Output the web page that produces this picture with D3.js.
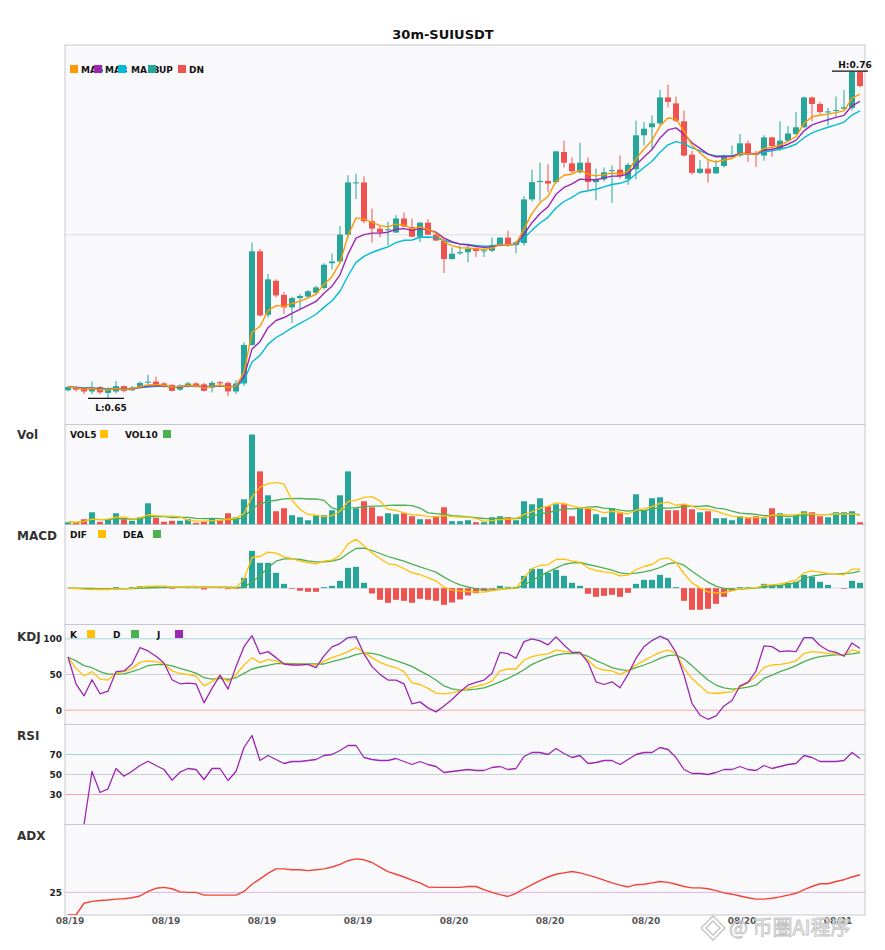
<!DOCTYPE html>
<html>
<head>
<meta charset="utf-8">
<title>30m-SUIUSDT</title>
<script src="https://cdn.jsdelivr.net/npm/d3@7"></script>
<style>
  body { margin: 0; background: #fff; }
  svg { display: block; font-family: "DejaVu Sans", sans-serif; }
</style>
</head>
<body>
<svg id="chart" width="885" height="950"></svg>
<script>
// 30m SUIUSDT, 100 candles
var open = [
  0.6529,0.6540,0.6534,0.6525,0.6540,0.6520,0.6525,0.6543,0.6529,0.6538,
  0.6556,0.6558,0.6552,0.6547,0.6531,0.6540,0.6552,0.6549,0.6538,0.6556,
  0.6554,0.6525,0.6552,0.6681,0.6995,0.6782,0.6896,0.6849,0.6807,0.6838,
  0.6843,0.6856,0.6872,0.6955,0.6961,0.7051,0.7224,0.7226,0.7096,0.7071,
  0.7067,0.7058,0.7105,0.7076,0.7044,0.7091,0.7051,0.7031,0.6969,0.6988,
  0.6992,0.7005,0.6996,0.6997,0.7014,0.7041,0.7016,0.7023,0.7169,0.7227,
  0.7231,0.7227,0.7328,0.7290,0.7260,0.7292,0.7227,0.7236,0.7264,0.7269,
  0.7238,0.7270,0.7384,0.7411,0.7424,0.7511,0.7491,0.7431,0.7319,0.7258,
  0.7272,0.7256,0.7281,0.7314,0.7316,0.7357,0.7321,0.7316,0.7377,0.7339,
  0.7366,0.7388,0.7411,0.7511,0.7489,0.7462,0.7467,0.7473,0.7476,0.7596
];
var high = [
  0.6543,0.6543,0.6536,0.6558,0.6543,0.6538,0.6560,0.6545,0.6543,0.6558,
  0.6581,0.6574,0.6556,0.6549,0.6549,0.6558,0.6556,0.6554,0.6560,0.6560,
  0.6558,0.6563,0.6690,0.7024,0.7002,0.6919,0.6901,0.6858,0.6843,0.6852,
  0.6865,0.6879,0.6955,0.6988,0.7080,0.7250,0.7255,0.7246,0.7138,0.7080,
  0.7094,0.7116,0.7125,0.7105,0.7094,0.7103,0.7059,0.7039,0.7008,0.7014,
  0.7020,0.7007,0.7007,0.7041,0.7041,0.7064,0.7030,0.7180,0.7269,0.7292,
  0.7287,0.7332,0.7366,0.7310,0.7359,0.7310,0.7272,0.7276,0.7283,0.7316,
  0.7292,0.7433,0.7428,0.7451,0.7536,0.7554,0.7514,0.7467,0.7332,0.7301,
  0.7299,0.7301,0.7319,0.7350,0.7388,0.7366,0.7332,0.7384,0.7379,0.7431,
  0.7415,0.7462,0.7514,0.7514,0.7496,0.7476,0.7514,0.7536,0.7599,0.7599
];
var low = [
  0.6525,0.6525,0.6516,0.6516,0.6516,0.6502,0.6518,0.6522,0.6527,0.6534,
  0.6547,0.6543,0.6538,0.6525,0.6527,0.6538,0.6538,0.6525,0.6522,0.6543,
  0.6509,0.6516,0.6543,0.6678,0.6776,0.6773,0.6840,0.6784,0.6755,0.6802,
  0.6838,0.6852,0.6867,0.6935,0.6955,0.7040,0.7170,0.7089,0.7024,0.7042,
  0.7015,0.7056,0.7076,0.7042,0.7026,0.7049,0.7030,0.6922,0.6967,0.6983,
  0.6958,0.6976,0.6976,0.6992,0.7012,0.7010,0.6989,0.7014,0.7162,0.7162,
  0.7193,0.7222,0.7276,0.7258,0.7256,0.7200,0.7166,0.7229,0.7157,0.7238,
  0.7218,0.7236,0.7350,0.7339,0.7417,0.7478,0.7428,0.7312,0.7252,0.7254,
  0.7225,0.7256,0.7276,0.7312,0.7312,0.7294,0.7278,0.7299,0.7312,0.7332,
  0.7361,0.7386,0.7408,0.7431,0.7455,0.7417,0.7446,0.7469,0.7467,0.7545
];
var close = [
  0.6540,0.6531,0.6525,0.6538,0.6522,0.6531,0.6543,0.6527,0.6538,0.6554,
  0.6558,0.6549,0.6543,0.6527,0.6545,0.6552,0.6543,0.6527,0.6554,0.6552,
  0.6525,0.6552,0.6681,0.6995,0.6780,0.6901,0.6847,0.6807,0.6838,0.6845,
  0.6861,0.6874,0.6950,0.6961,0.7051,0.7226,0.7226,0.7096,0.7071,0.7058,
  0.7069,0.7105,0.7078,0.7044,0.7091,0.7051,0.7031,0.6969,0.6987,0.6992,
  0.7003,0.6996,0.6998,0.7016,0.7041,0.7016,0.7025,0.7169,0.7227,0.7231,
  0.7222,0.7330,0.7292,0.7263,0.7292,0.7227,0.7236,0.7260,0.7267,0.7247,
  0.7285,0.7384,0.7406,0.7424,0.7511,0.7496,0.7433,0.7316,0.7258,0.7272,
  0.7256,0.7278,0.7316,0.7316,0.7357,0.7321,0.7319,0.7377,0.7348,0.7366,
  0.7390,0.7411,0.7511,0.7489,0.7462,0.7464,0.7469,0.7478,0.7596,0.7549
];
var ma5 = [
  0.6540,0.6537,0.6533,0.6535,0.6531,0.6531,0.6535,0.6532,0.6534,0.6541,
  0.6547,0.6548,0.6546,0.6540,0.6542,0.6545,0.6544,0.6538,0.6543,0.6546,
  0.6539,0.6543,0.6589,0.6724,0.6743,0.6796,0.6813,0.6811,0.6820,0.6828,
  0.6839,0.6851,0.6884,0.6910,0.6957,0.7047,0.7107,0.7103,0.7092,0.7081,
  0.7077,0.7086,0.7083,0.7070,0.7077,0.7068,0.7056,0.7027,0.7014,0.7007,
  0.7006,0.7003,0.7001,0.7006,0.7018,0.7017,0.7020,0.7070,0.7122,0.7158,
  0.7179,0.7229,0.7250,0.7254,0.7267,0.7254,0.7248,0.7252,0.7257,0.7254,
  0.7264,0.7304,0.7338,0.7367,0.7415,0.7442,0.7439,0.7398,0.7351,0.7325,
  0.7302,0.7294,0.7301,0.7306,0.7323,0.7322,0.7321,0.7340,0.7343,0.7351,
  0.7364,0.7380,0.7424,0.7446,0.7451,0.7455,0.7460,0.7466,0.7509,0.7522
];
var ma8 = [
  0.6540,0.6538,0.6535,0.6536,0.6533,0.6532,0.6535,0.6533,0.6534,0.6539,
  0.6543,0.6544,0.6544,0.6540,0.6541,0.6544,0.6544,0.6540,0.6543,0.6545,
  0.6541,0.6543,0.6574,0.6667,0.6692,0.6739,0.6763,0.6773,0.6787,0.6800,
  0.6814,0.6827,0.6854,0.6878,0.6916,0.6985,0.7039,0.7051,0.7056,0.7056,
  0.7059,0.7069,0.7071,0.7065,0.7071,0.7067,0.7059,0.7039,0.7027,0.7019,
  0.7016,0.7011,0.7008,0.7010,0.7017,0.7017,0.7019,0.7052,0.7091,0.7122,
  0.7144,0.7186,0.7209,0.7221,0.7237,0.7235,0.7235,0.7241,0.7247,0.7247,
  0.7255,0.7284,0.7311,0.7336,0.7375,0.7402,0.7409,0.7388,0.7359,0.7340,
  0.7321,0.7312,0.7313,0.7313,0.7323,0.7323,0.7322,0.7334,0.7337,0.7344,
  0.7354,0.7367,0.7399,0.7419,0.7428,0.7436,0.7444,0.7451,0.7483,0.7498
];
var ma13 = [
  0.6540,0.6539,0.6537,0.6537,0.6535,0.6534,0.6536,0.6534,0.6535,0.6538,
  0.6540,0.6542,0.6542,0.6540,0.6541,0.6542,0.6542,0.6540,0.6542,0.6543,
  0.6541,0.6542,0.6562,0.6624,0.6646,0.6683,0.6706,0.6721,0.6738,0.6753,
  0.6768,0.6784,0.6807,0.6829,0.6861,0.6913,0.6958,0.6978,0.6991,0.7001,
  0.7010,0.7024,0.7032,0.7033,0.7042,0.7043,0.7041,0.7031,0.7025,0.7020,
  0.7018,0.7015,0.7012,0.7013,0.7017,0.7017,0.7018,0.7039,0.7066,0.7090,
  0.7109,0.7140,0.7162,0.7176,0.7193,0.7198,0.7203,0.7211,0.7219,0.7223,
  0.7232,0.7254,0.7276,0.7297,0.7327,0.7352,0.7363,0.7356,0.7342,0.7332,
  0.7321,0.7315,0.7315,0.7315,0.7321,0.7321,0.7321,0.7329,0.7332,0.7337,
  0.7344,0.7354,0.7376,0.7392,0.7402,0.7411,0.7419,0.7428,0.7452,0.7466
];
// volume, x100k
var volume = [
  2.3,1.7,5.3,12.3,2.7,5.3,11.3,5.3,3.7,7.3,
  21.3,6.7,2.7,3.7,3.7,5.3,1.7,2.7,6.3,4.3,
  11.3,7.3,25.3,90.3,53.3,29.3,13.3,16.3,9.3,7.3,
  4.3,9.3,9.3,14.3,29.3,53.3,16.3,23.3,17.3,8.3,
  11.3,10.3,11.3,8.3,5.3,5.3,8.3,17.3,3.3,3.3,
  4.3,2.3,2.3,7.3,8.3,7.3,4.3,23.3,20.3,26.3,
  18.3,20.3,20.3,8.3,16.3,16.3,10.3,7.3,16.3,11.3,
  7.3,30.3,14.3,26.3,27.3,14.3,14.3,20.3,15.3,12.3,
  13.3,6.3,6.3,4.3,8.3,7.3,8.3,6.3,16.3,11.3,
  6.3,9.3,13.3,12.3,8.3,7.3,12.3,12.3,13.3,2.3
];
var vol5 = [
  2.3,2.0,3.1,5.4,4.86,5.46,7.38,7.38,5.66,6.58,
  9.78,8.86,8.34,8.34,7.62,4.42,3.42,3.42,3.94,4.06,
  5.26,6.38,10.9,27.7,37.5,41.1,42.3,40.5,24.3,15.1,
  10.1,9.3,7.9,8.9,13.3,23.1,24.5,27.3,27.9,23.7,
  15.3,14.1,11.7,9.9,9.3,8.1,7.7,8.9,7.9,7.5,
  7.3,6.1,3.1,3.9,4.9,5.5,5.9,10.1,12.7,16.3,
  18.5,21.7,21.1,18.7,16.7,16.3,14.3,11.7,13.3,12.3,
  10.5,14.5,15.9,17.9,21.1,22.5,19.3,20.5,18.3,15.3,
  15.1,13.5,10.7,8.5,7.7,6.5,6.9,6.9,9.3,9.9,
  9.7,9.9,11.3,10.5,9.9,10.1,10.7,10.5,10.7,9.5
];
var vol10 = [
  2.3,2.0,3.1,5.4,4.86,4.93,5.84,5.78,5.54,5.72,
  7.62,8.12,7.86,7.0,7.1,7.1,6.14,5.88,6.14,5.84,
  4.84,4.9,7.16,15.82,20.78,23.18,24.34,25.7,26.0,26.3,
  25.6,25.8,24.2,16.6,14.2,16.6,16.9,17.6,18.4,18.5,
  19.2,19.3,19.5,18.9,16.5,11.7,10.9,10.3,8.9,8.4,
  7.7,6.9,6.0,5.9,6.2,6.4,6.0,6.6,8.3,10.6,
  12.0,13.8,15.6,15.7,16.5,17.4,18.0,16.4,16.0,14.5,
  13.4,14.4,13.8,15.6,16.7,16.5,16.9,18.2,18.1,18.2,
  18.8,16.4,15.6,13.4,11.5,10.8,10.2,8.8,8.9,8.8,
  8.1,8.4,9.1,9.9,9.9,9.9,10.3,10.9,10.6,9.8
];
// MACD, x1e-4
var dif = [
  0,-1,-3,-4,-4,-4,-2,-2,0,3,
  5,6,6,4,4,5,5,3,3,4,
  1,1,27,92,95,108,105,94,89,81,
  77,73,81,84,98,133,147,127,106,89,
  73,70,59,46,41,31,22,3,-6,-8,
  -10,-11,-12,-8,-4,0,0,31,59,68,
  70,86,87,82,77,61,53,49,46,37,
  39,56,65,71,87,91,77,44,16,1,
  -11,-14,-13,-8,-2,0,1,9,10,13,
  18,24,46,52,48,44,43,40,57,57
];
var dea = [
  0,0,-1,-1,-2,-2,-2,-2,-1,0,
  1,2,3,3,3,4,4,4,3,3,
  3,2,2,19,37,61,81,88,88,86,
  82,79,79,81,87,104,119,120,113,104,
  95,88,81,72,64,56,48,33,20,10,
  4,-2,-5,-5,-3,-1,0,9,23,36,
  49,60,71,76,77,71,66,60,54,46,
  43,45,49,54,62,73,77,69,51,34,
  18,6,-1,-4,-3,-1,0,4,6,8,
  11,16,29,36,40,43,43,44,46,51
];
var macdHist = [
  0,0,-2,0,-3,-3,3,0,3,6,
  6,5,3,-2,0,1,1,-4,0,3,
  -3,-2,31,112,76,76,46,13,-2,-8,
  -11,-11,3,7,22,61,64,16,-16,-35,
  -44,-35,-38,-44,-32,-35,-38,-50,-43,-34,
  -22,-15,-8,-2,7,4,4,37,58,58,
  46,55,37,16,7,-17,-26,-23,-20,-26,
  -14,13,25,25,40,31,3,-38,-65,-65,
  -62,-47,-26,-8,3,3,0,13,10,10,
  16,19,40,34,19,10,0,-2,22,16
];
var kdjK = [
  74.5,58.6,48.3,54,43.6,42.2,52,54,58.6,67,
  69,68,65,55,51.6,50,47.8,34,40,47.8,
  40,50,63.3,73.6,66.6,70.8,69,65,64.2,64.2,
  64.2,63,68.5,73.6,77.4,82,87.7,81,73.6,67,
  62.4,59.5,54,38.4,36,30.5,24,23,24.4,27,
  30.5,33.3,36,40.8,55,57.7,57.7,70.3,75,77.4,
  78.8,84,82.5,81,80,70.3,59.5,56.3,55,50.2,
  55,63.3,69.4,75.5,81,84,79.7,58.6,44.5,34.2,
  24.4,23.4,24.8,25.8,32.3,38.9,47.3,60,63.3,64.2,
  66,69,79.7,82,81,79.7,78.8,77.4,84.4,81.6
];
var kdjD = [
  74.5,69,62.4,59.5,54,50.6,50.6,51,54,57.7,
  62.4,63.8,64.2,62,58.6,55.3,52,45.5,43.6,44.5,
  43,45.5,51.6,57.7,60.5,62.8,65.2,65.6,65.2,64.7,
  64.7,64.7,64.7,68,70.8,74,77.8,80.2,79.7,77,
  73,69.4,65.6,61.4,55,49.2,42.2,34,30,28,
  28.6,29.5,31.4,35.2,39.8,44.5,50.2,56.7,64.2,69,
  73.6,77,79.2,79.2,79.2,75.5,69.4,64.7,59.5,56.7,
  55.3,59.5,63.3,67.5,72.7,76.4,77.4,71.7,62.4,52,
  42.2,35.2,31.4,29.5,30.5,32.3,35.2,44.5,49.2,54,
  58,62.4,68,72.2,75,76.4,77.4,77.8,78.8,80.6
];
var kdjJ = [
  74.5,37,20,42.7,23,26.7,54,55,64.7,87.7,
  83,75.5,66,42.7,37,38,37,10.3,30.5,49.2,
  29.5,61,89,104.5,78.8,82,73.6,64.7,63.3,63.3,
  64.2,59.5,76,88.6,93.3,101.7,103,78.8,61,50.2,
  42.2,42.2,37,9,11.7,3.3,-2.3,6,15,25.8,
  35,39,42.2,51.6,81,79.2,72.7,96,99.9,97,
  91.4,102.7,91.4,81,81,67,39.8,36,39.8,31.4,
  50.2,72.7,89,97.5,103.6,98.5,81,49.2,9.4,-7,
  -12.7,-8,6,13.6,34.2,38.9,54.9,90,89,82,
  83,82,101.7,101.7,90.5,83.5,81,75.5,94.2,86.3
];
var rsi = [
  null,null,0,53,32,35.7,56,48.3,53.3,59,
  63.3,59,55,44.3,52.3,56,55,45,56,56,
  44,53,77,89,64,69,65,61,63,63,
  64,65,69,70,74,79,79,67,65,64,
  64,66,63,60,63,60,58,52,53,54,
  55,54,54,57,58,55,56,68,72,72,
  70,76,71,67,69,61,62,64,64,60,
  65,70,72,72,77,75,67,55,51,51,
  50,52,55,55,58,55,54,59,56,58,
  60,61,69,67,63,63,63,64,72,66
];
var adx = [
  0,0,13,15,16,16.5,17.5,18,19,21,
  26,29.5,30.5,29,25.5,25,25,22,22,22,
  22,22,26,34,40,46,51,51,50,50,
  49,50,51,53,56,60,62,61,58,53,
  48,45,42,38.5,35.5,31,30.5,30.5,30.5,30.5,
  31.5,31.5,28,25,22.5,20.5,24,29,33.5,38,
  42,45,46.5,48,46.5,44,41.5,38.5,35.5,33,
  31,33.5,34,35.5,37,36,34,31.5,30,30,
  29,27,24.5,23,21,19,17.5,17.5,18.5,20,
  22,24,28,31.5,34.5,34.5,37,39,42,44.5
];
var tickIndex = [0, 12, 24, 36, 48, 60, 72, 84, 96];
var tickLabels = ["08/19","08/19","08/19","08/19","08/20","08/20","08/20","08/20","08/21"];

var UP = "#26a69a", DN = "#ef5350",
    ORANGE = "#ff9800", PURPLE = "#9c27b0", CYAN = "#00bcd4",
    YELLOW = "#ffc107", GREEN = "#4caf50";

var svg = d3.select("#chart"),
    n = close.length,
    left = 65, right = 865;

var panels = {
  main: [45, 424.5], vol: [424.5, 524.5], macd: [524.5, 624.5],
  kdj: [624.5, 724.5], rsi: [724.5, 824.5], adx: [824.5, 915]
};

var x = d3.scaleBand().domain(d3.range(n)).range([left - 1, right - 1]);
function cx(i) { return x(i) + x.bandwidth() / 2; }
var bodyW = 6;

var defs = svg.append("defs");
Object.keys(panels).forEach(function(k) {
  var p = panels[k];
  svg.append("rect")
      .attr("x", left).attr("y", p[0])
      .attr("width", right - left).attr("height", p[1] - p[0])
      .attr("fill", "#f9f9fb").attr("stroke", "#c8c8d0");
  defs.append("clipPath").attr("id", "clip-" + k)
    .append("rect")
      .attr("x", left).attr("y", p[0])
      .attr("width", right - left).attr("height", p[1] - p[0]);
});

function layer(k) { return svg.append("g").attr("clip-path", "url(#clip-" + k + ")"); }

function drawLine(g, values, yScale, color, width) {
  g.append("path")
      .datum(values)
      .attr("fill", "none")
      .attr("stroke", color)
      .attr("stroke-width", width || 1.3)
      .attr("stroke-linejoin", "round")
      .attr("d", d3.line()
        .defined(function(d) { return d != null; })
        .x(function(d, i) { return cx(i); })
        .y(function(d) { return yScale(d); }));
}

function refLine(g, yScale, v, color) {
  g.append("line")
      .attr("x1", left).attr("x2", right)
      .attr("y1", yScale(v)).attr("y2", yScale(v))
      .attr("stroke", color).attr("stroke-width", 1);
}

function legend(items, yc) {
  items.forEach(function(it) {
    svg.append("text")
        .attr("x", it.tx).attr("y", yc + 3.5)
        .attr("font-size", 9).attr("font-weight", "bold").attr("fill", "#111")
        .text(it.label);
    svg.append("rect")
        .attr("x", it.sx).attr("y", yc - 4)
        .attr("width", 8).attr("height", 8)
        .attr("fill", it.color);
  });
}

function tickLabel(yScale, v) {
  svg.append("text")
      .attr("x", 62).attr("y", yScale(v) + 3.5)
      .attr("text-anchor", "end")
      .attr("font-size", 9).attr("font-weight", "bold").attr("fill", "#222")
      .text(v);
}

// title and panel names
svg.append("text")
    .attr("x", 443).attr("y", 39)
    .attr("text-anchor", "middle")
    .attr("font-size", 13).attr("font-weight", "bold").attr("fill", "#111")
    .text("30m-SUIUSDT");

[["Vol", 439], ["MACD", 540], ["KDJ", 641], ["RSI", 740], ["ADX", 840]].forEach(function(d) {
  svg.append("text")
      .attr("x", 17).attr("y", d[1])
      .attr("font-size", 12).attr("font-weight", "bold").attr("fill", "#333")
      .text(d[0]);
});

// ---- main: candles + MA ----
var lo = d3.min(low), hi = d3.max(high), pad = (hi - lo) * 0.08;
var y = d3.scaleLinear().domain([lo - pad, hi + pad]).range([panels.main[1], panels.main[0]]);
var gMain = layer("main");
refLine(gMain, y, (lo + hi) / 2, "#dcdce3");

var candles = gMain.selectAll("g.candle")
  .data(d3.range(n))
  .enter().append("g")
    .attr("class", "candle");
candles.append("line")
    .attr("x1", cx).attr("x2", cx)
    .attr("y1", function(i) { return y(high[i]); })
    .attr("y2", function(i) { return y(low[i]); })
    .attr("stroke", function(i) { return close[i] >= open[i] ? UP : DN; })
    .attr("stroke-width", 1);
candles.append("rect")
    .attr("x", function(i) { return cx(i) - bodyW / 2; })
    .attr("y", function(i) { return y(Math.max(open[i], close[i])); })
    .attr("width", bodyW)
    .attr("height", function(i) { return Math.max(1, Math.abs(y(open[i]) - y(close[i]))); })
    .attr("fill", function(i) { return close[i] >= open[i] ? UP : DN; });

drawLine(gMain, ma13, y, CYAN, 1.4);
drawLine(gMain, ma8, y, PURPLE, 1.4);
drawLine(gMain, ma5, y, ORANGE, 1.4);

legend([
  { sx: 70, tx: 81, label: "MA5", color: ORANGE },
  { sx: 94, tx: 105, label: "MA8", color: PURPLE },
  { sx: 118, tx: 131, label: "MA13", color: CYAN },
  { sx: 148, tx: 159, label: "UP", color: UP },
  { sx: 178, tx: 189, label: "DN", color: DN }
], 69);

// high / low markers
var hiIdx = high.indexOf(hi), loIdx = low.indexOf(lo);
svg.append("line")
    .attr("x1", cx(hiIdx) - 20).attr("x2", cx(hiIdx) + 16)
    .attr("y1", y(hi)).attr("y2", y(hi))
    .attr("stroke", "#111").attr("stroke-width", 1.2);
svg.append("text")
    .attr("x", cx(hiIdx) + 3).attr("y", y(hi) - 3.5)
    .attr("text-anchor", "middle")
    .attr("font-size", 9).attr("font-weight", "bold").attr("fill", "#111")
    .text("H:" + hi.toFixed(2));
svg.append("line")
    .attr("x1", cx(loIdx) - 20).attr("x2", cx(loIdx) + 16)
    .attr("y1", y(lo)).attr("y2", y(lo))
    .attr("stroke", "#111").attr("stroke-width", 1.2);
svg.append("text")
    .attr("x", cx(loIdx) + 3).attr("y", y(lo) + 12.5)
    .attr("text-anchor", "middle")
    .attr("font-size", 9).attr("font-weight", "bold").attr("fill", "#111")
    .text("L:" + lo.toFixed(2));

// ---- volume ----
var yVol = d3.scaleLinear().domain([0, d3.max(volume) / 0.9]).range([panels.vol[1], panels.vol[0]]);
var gVol = layer("vol");
gVol.selectAll("rect.vbar")
  .data(volume)
  .enter().append("rect")
    .attr("class", "vbar")
    .attr("x", function(d, i) { return cx(i) - bodyW / 2; })
    .attr("y", function(d) { return yVol(d); })
    .attr("width", bodyW)
    .attr("height", function(d) { return yVol(0) - yVol(d); })
    .attr("fill", function(d, i) { return close[i] >= open[i] ? UP : DN; });
drawLine(gVol, vol10, yVol, GREEN, 1.3);
drawLine(gVol, vol5, yVol, YELLOW, 1.3);
legend([
  { sx: 100, tx: 70, label: "VOL5", color: YELLOW },
  { sx: 163, tx: 125, label: "VOL10", color: GREEN }
], 434);

// ---- MACD ----
var yMacd = d3.scaleLinear().domain([-109, 191]).range([panels.macd[1], panels.macd[0]]);
var gMacd = layer("macd");
refLine(gMacd, yMacd, 0, "#dddde2");
gMacd.selectAll("rect.mbar")
  .data(macdHist)
  .enter().append("rect")
    .attr("class", "mbar")
    .attr("x", function(d, i) { return cx(i) - bodyW / 2; })
    .attr("y", function(d) { return yMacd(Math.max(0, d)); })
    .attr("width", bodyW)
    .attr("height", function(d) { return Math.abs(yMacd(d) - yMacd(0)); })
    .attr("fill", function(d) { return d >= 0 ? UP : DN; });
drawLine(gMacd, dea, yMacd, GREEN, 1.3);
drawLine(gMacd, dif, yMacd, YELLOW, 1.3);
legend([
  { sx: 98, tx: 70, label: "DIF", color: YELLOW },
  { sx: 153, tx: 123, label: "DEA", color: GREEN }
], 534);

// ---- KDJ ----
var yKdj = d3.scaleLinear().domain([-20, 120]).range([panels.kdj[1], panels.kdj[0]]);
var gKdj = layer("kdj");
refLine(gKdj, yKdj, 100, "#a3d7d7");
refLine(gKdj, yKdj, 50, "#cfcfd4");
refLine(gKdj, yKdj, 0, "#f5a8a8");
drawLine(gKdj, kdjD, yKdj, GREEN, 1.3);
drawLine(gKdj, kdjK, yKdj, YELLOW, 1.3);
drawLine(gKdj, kdjJ, yKdj, PURPLE, 1.3);
[100, 50, 0].forEach(function(v) { tickLabel(yKdj, v); });
legend([
  { sx: 87, tx: 70, label: "K", color: YELLOW },
  { sx: 131, tx: 113, label: "D", color: GREEN },
  { sx: 175, tx: 157, label: "J", color: PURPLE }
], 634);

// ---- RSI ----
var yRsi = d3.scaleLinear().domain([0, 100]).range([panels.rsi[1], panels.rsi[0]]);
var gRsi = layer("rsi");
refLine(gRsi, yRsi, 70, "#a3d7d7");
refLine(gRsi, yRsi, 50, "#cfcfd4");
refLine(gRsi, yRsi, 30, "#f5a8a8");
drawLine(gRsi, rsi, yRsi, PURPLE, 1.3);
[70, 50, 30].forEach(function(v) { tickLabel(yRsi, v); });

// ---- ADX ----
var yAdx = d3.scaleLinear().domain([0, 100]).range([panels.adx[1], panels.adx[0]]);
var gAdx = layer("adx");
refLine(gAdx, yAdx, 25, "#e2b4e8");
drawLine(gAdx, adx, yAdx, "#f44336", 1.4);
tickLabel(yAdx, 25);

// x labels
svg.selectAll("text.xlab")
  .data(tickIndex)
  .enter().append("text")
    .attr("class", "xlab")
    .attr("x", function(i) { return cx(i) + 2; })
    .attr("y", 924)
    .attr("text-anchor", "middle")
    .attr("font-size", 9).attr("font-weight", "bold").attr("fill", "#555")
    .text(function(d, k) { return tickLabels[k]; });

// watermark
var wm = svg.append("g").attr("opacity", 0.9);
wm.append("path")
    .attr("d", "M713,916 L725,928 L713,940 L701,928 Z M713,921 L720,928 L713,935 L706,928 Z")
    .attr("fill", "none").attr("stroke", "#c4c4c4").attr("stroke-width", 1.6);
wm.append("text")
    .attr("x", 729).attr("y", 935)
    .attr("font-family", "Noto Sans CJK SC, sans-serif")
    .attr("font-size", 20)
    .attr("fill", "#eeeeee").attr("stroke", "#bdbdbd").attr("stroke-width", 0.8)
    .text("@ 币圈AI程序");
</script>
</body>
</html>
